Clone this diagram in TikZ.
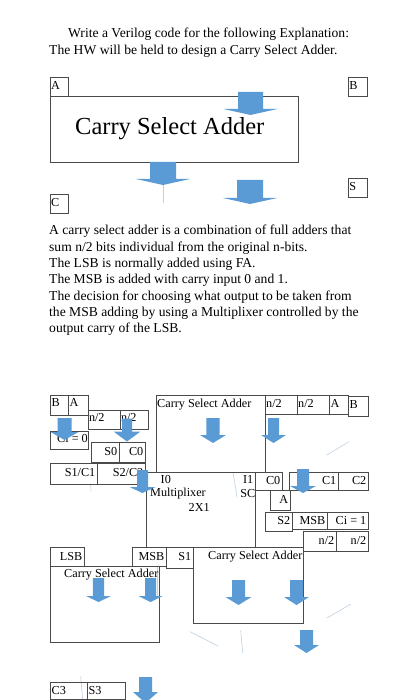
\documentclass[tikz,border=0pt]{standalone}
\usepackage{fontspec}
\setmainfont{Liberation Serif}
\usetikzlibrary{fit}
\definecolor{arrblue}{HTML}{5B9BD5}
\definecolor{boxgray}{HTML}{4A4A4A}
\definecolor{faint}{HTML}{BFD0E4}
\tikzset{
  bx/.style={draw=boxgray, line width=0.8pt, inner sep=0pt, rectangle},
  lbl/.style={inner sep=0pt, font=\fontsize{12.2}{14}\selectfont, text=black},
  para/.style={inner sep=0pt, anchor=base west, font=\fontsize{13.6}{16}\selectfont},
  faintline/.style={draw=faint, line width=0.6pt},
  arrowfill/.style={fill=arrblue}
}
\newcommand{\cellbox}[5]{\node[bx, fit={(#2,#3)(#4,#5)}] (#1) {};}
\newcommand{\blockarrow}[7]{%
  \fill[arrowfill] ({#2-#4},#3) -- ({#2+#4},#3) -- ({#2+#4},#5) -- ({#2+#6},#5)
    -- (#2,#7) -- ({#2-#6},#5) -- ({#2-#4},#5) -- cycle;
  \coordinate (#1) at (#2,#7);}
\begin{document}
\begin{tikzpicture}[x=1pt,y=-1pt]
\useasboundingbox (0,0) rectangle (417,700);
\fill[white] (0,0) rectangle (417,700);

% ---------- title ----------
\node[para] (t1) at (68,37.8) {Write a Verilog code for the following Explanation:};
\node[para] (t2) at (49,54.4) {The HW will be held to design a Carry Select Adder.};

% ---------- top block ----------
\cellbox{tA}{50}{77}{68}{96}
\cellbox{tB}{348}{77}{367}{96}
\cellbox{tbig}{50}{96}{298}{162}
\cellbox{tS}{348}{178}{367}{197}
\cellbox{tC}{50}{194}{68}{213}
\node[lbl, anchor=base west] (tAl) at (50.8,89.3) {A};
\node[lbl, anchor=base west] (tBl) at (349.2,89.3) {B};
\node[lbl, anchor=base west] (tSl) at (349.2,190.3) {S};
\node[lbl, anchor=base west] (tCl) at (50.8,206.3) {C};
\node[inner sep=0pt, anchor=base west, font=\fontsize{24.5}{28}\selectfont] (tbigl) at (75,134.3) {Carry Select Adder};

\draw[faintline] (163,185) -- (163,203);
\blockarrow{ta1}{250.5}{92}{12.5}{109}{27}{115}
\blockarrow{ta2}{163}{162}{13}{179}{27}{185}
\blockarrow{ta3}{250}{180}{13}{198}{27}{204}

% ---------- paragraph ----------
\node[para] (p1) at (49,235) {A carry select adder is a combination of full adders that};
\node[para] (p2) at (49,251.3) {sum n/2 bits individual from the original n-bits.};
\node[para] (p3) at (49,267.6) {The LSB is normally added using FA.};
\node[para] (p4) at (49,283.9) {The MSB is added with carry input 0 and 1.};
\node[para] (p5) at (49,300.2) {The decision for choosing what output to be taken from};
\node[para] (p6) at (49,316.5) {the MSB adding by using a Multiplixer controlled by the};
\node[para] (p7) at (49,332.8) {output carry of the LSB.};

% ---------- faint lines ----------
\draw[faintline] (326.7,455) -- (349,441.7);
\draw[faintline] (233,472) -- (237,497);
\draw[faintline] (90.7,485) -- (91,491);
\draw[faintline] (157.3,567) -- (157.3,597);
\draw[faintline] (327,618) -- (351,604);
\draw[faintline] (240.7,630.7) -- (242.7,653);
\draw[faintline] (190,631.7) -- (218,646);
\draw[faintline] (80.7,676.7) -- (82.7,700);

% ---------- bottom: left cluster ----------
\cellbox{bB}{50}{395}{68}{415}
\cellbox{bA}{68}{395}{88}{415}
\cellbox{bn1}{88}{410}{120}{429}
\cellbox{bn2}{120}{410}{148}{429}
\cellbox{bci0}{50}{431}{88}{449}
\cellbox{bS0}{91}{442}{119}{462}
\cellbox{bC0}{119}{442}{145}{462}
\cellbox{bS1}{50}{463}{97}{484}
\cellbox{bS2}{97}{463}{145}{484}
\node[lbl, anchor=base west] (bBl) at (51.5,406.8) {B};
\node[lbl, anchor=base west] (bAl) at (69.5,406.8) {A};
\node[lbl, anchor=base west] (bn1l) at (88.8,421.5) {n/2};
\node[lbl, anchor=base west] (bn2l) at (120.8,421.5) {n/2};
\node[lbl, anchor=base east] (bci0l) at (88,442) {Ci = 0};
\node[lbl, anchor=base east] (bS0l) at (117.5,455) {S0};
\node[lbl, anchor=base east] (bC0l) at (143.5,455) {C0};
\node[lbl, anchor=base east] (bS1l) at (95.5,476) {S1/C1};
\node[lbl, anchor=base east] (bS2l) at (143.5,476) {S2/C2};

% ---------- bottom: upper carry select adder ----------
\cellbox{csa1}{156}{395}{265}{472}
\node[lbl, anchor=base west] (csa1l) at (157,407.5) {Carry Select Adder};
\cellbox{rn1}{265}{395}{297}{414}
\cellbox{rn2}{297}{395}{329}{414}
\cellbox{rA}{329}{395}{348}{414}
\cellbox{rB}{348}{396}{368}{416}
\node[lbl, anchor=base west] (rn1l) at (266,407) {n/2};
\node[lbl, anchor=base west] (rn2l) at (298,407) {n/2};
\node[lbl, anchor=base west] (rAl) at (330.5,407) {A};
\node[lbl, anchor=base west] (rBl) at (349.5,408) {B};

% ---------- multiplexer ----------
\cellbox{mux}{146}{472}{255}{547}
\node[lbl, anchor=base west] (muxI0) at (160.5,483) {I0};
\node[lbl, anchor=base west] (muxM) at (150,496.5) {Multiplixer};
\node[lbl, anchor=base west] (mux2) at (188.5,511) {2X1};
\node[lbl, anchor=base east] (muxI1) at (253.5,483) {I1};
\node[lbl, anchor=base east] (muxSC) at (255.5,497) {SC};
\cellbox{mC0}{255}{472}{282}{490}
\node[lbl, anchor=base east] (mC0l) at (280.5,484) {C0};
\cellbox{mC1}{289}{472}{338}{490}
\cellbox{mC2}{338}{472}{368}{490}
\node[lbl, anchor=base east] (mC1l) at (336.5,484) {C1};
\node[lbl, anchor=base east] (mC2l) at (366.5,484) {C2};
\cellbox{mA}{270}{490}{290}{510}
\node[lbl, anchor=base east] (mAl) at (288.5,503) {A};
\cellbox{mS2}{265}{512}{292}{531}
\cellbox{mMSB}{292}{512}{327}{529}
\cellbox{mci1}{327}{512}{368}{529}
\node[lbl, anchor=base east] (mS2l) at (290.5,524) {S2};
\node[lbl, anchor=base east] (mMSBl) at (325.5,524) {MSB};
\node[lbl, anchor=base east] (mci1l) at (366.5,524) {Ci = 1};
\cellbox{mn1}{303}{531}{336}{551}
\cellbox{mn2}{336}{531}{368}{551}
\node[lbl, anchor=base east] (mn1l) at (334.5,544) {n/2};
\node[lbl, anchor=base east] (mn2l) at (366.5,544) {n/2};

% ---------- lower adders ----------
\cellbox{lLSB}{50}{547}{84}{566}
\cellbox{lMSB}{132}{547}{166}{566}
\cellbox{lS1}{166}{547}{193}{568}
\node[lbl, anchor=base east] (lLSBl) at (82.5,560) {LSB};
\node[lbl, anchor=base east] (lMSBl) at (164.5,560) {MSB};
\node[lbl, anchor=base east] (lS1l) at (191.5,560) {S1};
\cellbox{csaL}{50}{566}{159}{642}
\node[lbl, anchor=base west] (csaLl) at (64,577.5) {Carry Select Adder};
\cellbox{csaR}{193}{547}{303}{623}
\node[lbl, anchor=base west] (csaRl) at (208,559) {Carry Select Adder};
\cellbox{bC3}{50}{682}{87}{699}
\cellbox{bS3}{87}{682}{125}{699}
\node[lbl, anchor=base west] (bC3l) at (51.5,694.5) {C3};
\node[lbl, anchor=base west] (bS3l) at (88.5,694.5) {S3};

% ---------- block arrows ----------
\blockarrow{a4}{64.5}{418}{7}{432}{14}{440}
\blockarrow{a5}{127}{418.5}{5}{431.5}{13.5}{441.5}
\blockarrow{a6}{142.5}{470}{5.5}{487}{13}{493}
\blockarrow{a7}{213}{418}{6.7}{435}{13}{443}
\blockarrow{a8}{273.5}{418}{5.5}{435}{12.5}{443}
\blockarrow{a9}{303}{469}{6}{486}{13}{493}
\blockarrow{a10}{238.5}{580}{6.5}{597}{13}{605}
\blockarrow{a11}{296.5}{580}{6.5}{597}{12.5}{605}
\blockarrow{a12}{306.5}{630}{6.5}{645}{12.5}{653}
\blockarrow{a13}{98.5}{578}{5.7}{596}{12.5}{602}
\blockarrow{a14}{150.5}{578}{5.5}{596}{12}{602}
\blockarrow{a15}{145.5}{677}{6.5}{692}{12.5}{703}
\end{tikzpicture}
\end{document}
